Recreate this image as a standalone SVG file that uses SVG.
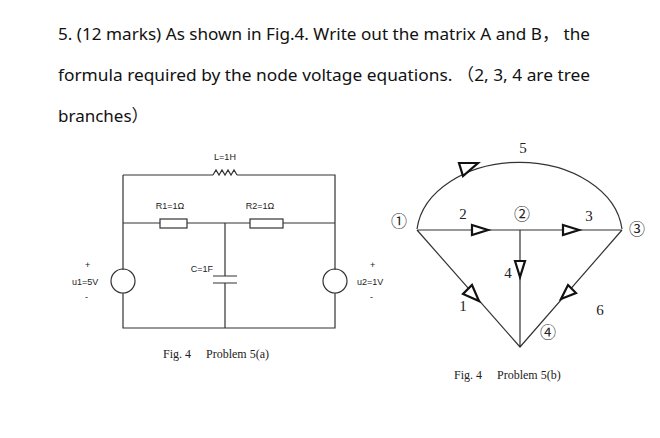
<svg xmlns="http://www.w3.org/2000/svg" width="660" height="438" viewBox="0 0 660 438">
<style>
.t{font-family:"Noto Sans","Noto Sans CJK SC",sans-serif;font-size:17px;fill:#111}
.s{font-family:"Liberation Sans",sans-serif;font-size:9px;fill:#222}
.c{font-family:"Liberation Serif","Noto Sans CJK SC",serif;fill:#222}
.w{stroke:#333;stroke-width:1.2;fill:none}
.a{stroke:#111;stroke-width:2.2;fill:#fff;stroke-linejoin:miter}
</style>
<rect width="660" height="438" fill="#fff"/>
<text class="t" x="58" y="40" textLength="532" lengthAdjust="spacingAndGlyphs">5. (12 marks) As shown in Fig.4. Write out the matrix A and B， the</text>
<text class="t" x="58" y="81" textLength="532" lengthAdjust="spacingAndGlyphs">formula required by the node voltage equations. （2, 3, 4 are tree</text>
<text class="t" x="58" y="122">branches）</text>
<g id="circuit">
<path class="w" d="M123,175 H213 M237,175 H335 V270 M335,293 V328 H123 V293 M123,270 V175 M123,223 H160 M187,223 H250 M283,223 H335 M225,223 V276 M225,283 V328"/>
<path class="w" d="M213,175 l3,-5 l3,5 l3,-5 l3,5 l3,-5 l3,5 l3,-5 l3,5"/>
<rect class="w" x="160" y="219" width="27" height="9"/>
<rect class="w" x="250" y="219" width="33" height="9"/>
<path class="w" d="M213,276 H237 M213,283 H237"/>
<circle class="w" cx="123" cy="281" r="12"/>
<circle class="w" cx="335" cy="281" r="12"/>
<text class="s" x="225" y="160" text-anchor="middle">L=1H</text>
<text class="s" x="170" y="209" text-anchor="middle">R1=1Ω</text>
<text class="s" x="260" y="209" text-anchor="middle">R2=1Ω</text>
<text class="s" x="202" y="272" text-anchor="middle">C=1F</text>
<text class="s" x="85" y="268">+</text>
<text class="s" x="72" y="285">u1=5V</text>
<text class="s" x="85" y="300">-</text>
<text class="s" x="370" y="268">+</text>
<text class="s" x="357" y="285">u2=1V</text>
<text class="s" x="370" y="300">-</text>
<text class="c" x="163" y="358" font-size="12">Fig. 4</text>
<text class="c" x="206" y="358" font-size="12">Problem 5(a)</text>
</g>
<g id="connectors">
<path class="w" d="M417,229 A103,74 0 0 1 622,229"/>
<path class="w" d="M417,230 H622 M520,230 V347 M417,230 L520,347 L622,230"/>
</g>
<g id="arrows">
<polygon class="a" points="459,163 478,163 463,176"/>
<polygon class="a" points="472,225 488,230 472,235"/>
<polygon class="a" points="563,225 579,230 563,235"/>
<polygon class="a" points="515,261 520,277 525,261"/>
<polygon class="a" points="472,285 479,301 463,294"/>
<polygon class="a" points="568,285 576,293 561,299"/>
</g>
<g id="labels" class="c">
<text x="523" y="153" font-size="15" text-anchor="middle">5</text>
<text x="463" y="219" font-size="15" text-anchor="middle">2</text>
<text x="589" y="221" font-size="15" text-anchor="middle">3</text>
<text x="508" y="278" font-size="15" text-anchor="middle">4</text>
<text x="463" y="311" font-size="15" text-anchor="middle">1</text>
<text x="600" y="315" font-size="15" text-anchor="middle">6</text>
<text x="399" y="227" font-size="16" text-anchor="middle">①</text>
<text x="522" y="220" font-size="16" text-anchor="middle">②</text>
<text x="637" y="235" font-size="16" text-anchor="middle">③</text>
<text x="548" y="338" font-size="16" text-anchor="middle">④</text>
<text x="454" y="379" font-size="12">Fig. 4</text>
<text x="497" y="379" font-size="12">Problem 5(b)</text>
</g>
</svg>
